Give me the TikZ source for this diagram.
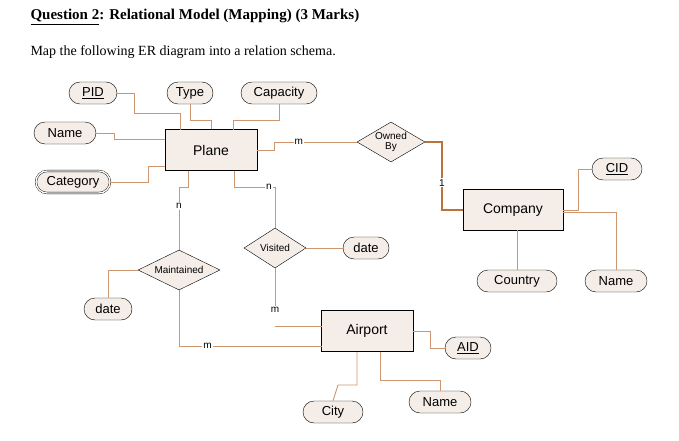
\documentclass[tikz,border=0pt]{standalone}
\usepackage{fontspec}
\setmainfont{Liberation Serif}
\newfontfamily\sansf{Liberation Sans}
\usetikzlibrary{shapes.geometric}
\definecolor{ln}{RGB}{205,150,110}
\definecolor{fl}{RGB}{245,238,232}
\definecolor{thk}{RGB}{185,115,60}
\begin{document}
\begin{tikzpicture}[x=1pt,y=-1pt,
 ent/.style={draw=black,fill=fl,minimum width=92pt,minimum height=41pt,font=\sansf\fontsize{14}{16}\selectfont},
 att/.style={draw=black,fill=fl,rounded corners=11pt,minimum height=22pt,inner xsep=6pt,font=\sansf\fontsize{13}{15}\selectfont},
 rel/.style={draw=black,fill=fl,diamond,aspect=1.7,inner sep=0pt,font=\sansf\fontsize{10}{10}\selectfont,align=center},
 con/.style={draw=ln,line width=0.9pt},
 lab/.style={fill=white,inner sep=1pt,font=\sansf\fontsize{10}{11}\selectfont}]
\useasboundingbox (0,0) rectangle (679,441);
\node[anchor=west,font=\bfseries\fontsize{15}{17}\selectfont] (t) at (27,17) {\underline{Question 2}: Relational Model (Mapping) (3 Marks)};
\node[anchor=west,font=\fontsize{14}{16}\selectfont] (s) at (27,52) {Map the following ER diagram into a relation schema.};
% entities
\node[ent] (plane) at (211,150) {Plane};
\node[ent,minimum width=100pt] (comp) at (513,210) {Company};
\node[ent] (air) at (367,331) {Airport};
% attributes
\node[att,minimum width=48pt] (pid) at (93,93) {\underline{PID}};
\node[att,minimum width=46pt] (type) at (190,93) {Type};
\node[att,minimum width=76pt] (cap) at (279,93) {Capacity};
\node[att,minimum width=62pt] (pname) at (65,133) {Name};
\node[att,minimum width=74pt,double,double distance=1.3pt] (cat) at (73,182) {Category};
\node[att,minimum width=50pt] (cid) at (617,169) {\underline{CID}};
\node[att,minimum width=80pt] (ctry) at (517,281) {Country};
\node[att,minimum width=62pt] (cname) at (616,281) {Name};
\node[att,minimum width=46pt] (vdate) at (366,248) {date};
\node[att,minimum width=48pt] (mdate) at (108,309) {date};
\node[att,minimum width=46pt] (aid) at (468,348) {\underline{AID}};
\node[att,minimum width=60pt] (city) at (333,412) {City};
\node[att,minimum width=62pt] (aname) at (440,402) {Name};
% relationships
\node[rel,minimum width=68pt,minimum height=40pt] (own) at (391,142) {Owned\\By};
\node[rel,minimum width=62pt,minimum height=40pt] (vis) at (275,248) {Visited};
\node[rel,minimum width=82pt,minimum height=40pt] (mnt) at (179,270) {Maintained};
% connectors
\draw[con] (pid.east) -| (134,113) -| (180,130);
\draw[con] (type.south) |- (211,120) -- (plane.north);
\draw[con] (cap.south) |- (233,120) -- (233,130);
\draw[con] (pname.east) -- (114,133) |- (165,139);
\draw[con] (cat.east) -- (148,182) |- (165,166);
\draw[con] (plane.east) -- (274,150) |- (own.west) node[lab,pos=0.65] {m};
\draw[draw=thk,line width=2.5pt] (own.east) -- (442,142) |- (comp.west) node[lab,pos=0.3] {1};
\draw[con] (comp.east) -- (578,210) |- (cid.west);
\draw[con] (517,230) -- (ctry.north);
\draw[con] (563,212) -| (cname.north);
\draw[con] (188,171) |- (179,187) -- (mnt.north) node[lab,pos=0.3] {n};
\draw[con] (234,171) |- (275,187) -- (vis.north) node[lab,pos=0,xshift=-6pt] {n};
\draw[con] (vis.east) -- (vdate.west);
\draw[con] (vis.south) -- (275,310) node[lab,pos=1] {m};
\draw[con] (275,326) -- (322,326);
\draw[con] (mnt.south) |- (322,346) node[lab,pos=0.6] {m};
\draw[con] (mnt.west) -| (mdate.north);
\draw[con] (air.east) -- (430,331) |- (aid.west);
\draw[con] (357,352) |- (338,385) -- (city.north);
\draw[con] (380,352) |- (440,380) -- (aname.north);
\end{tikzpicture}
\end{document}
